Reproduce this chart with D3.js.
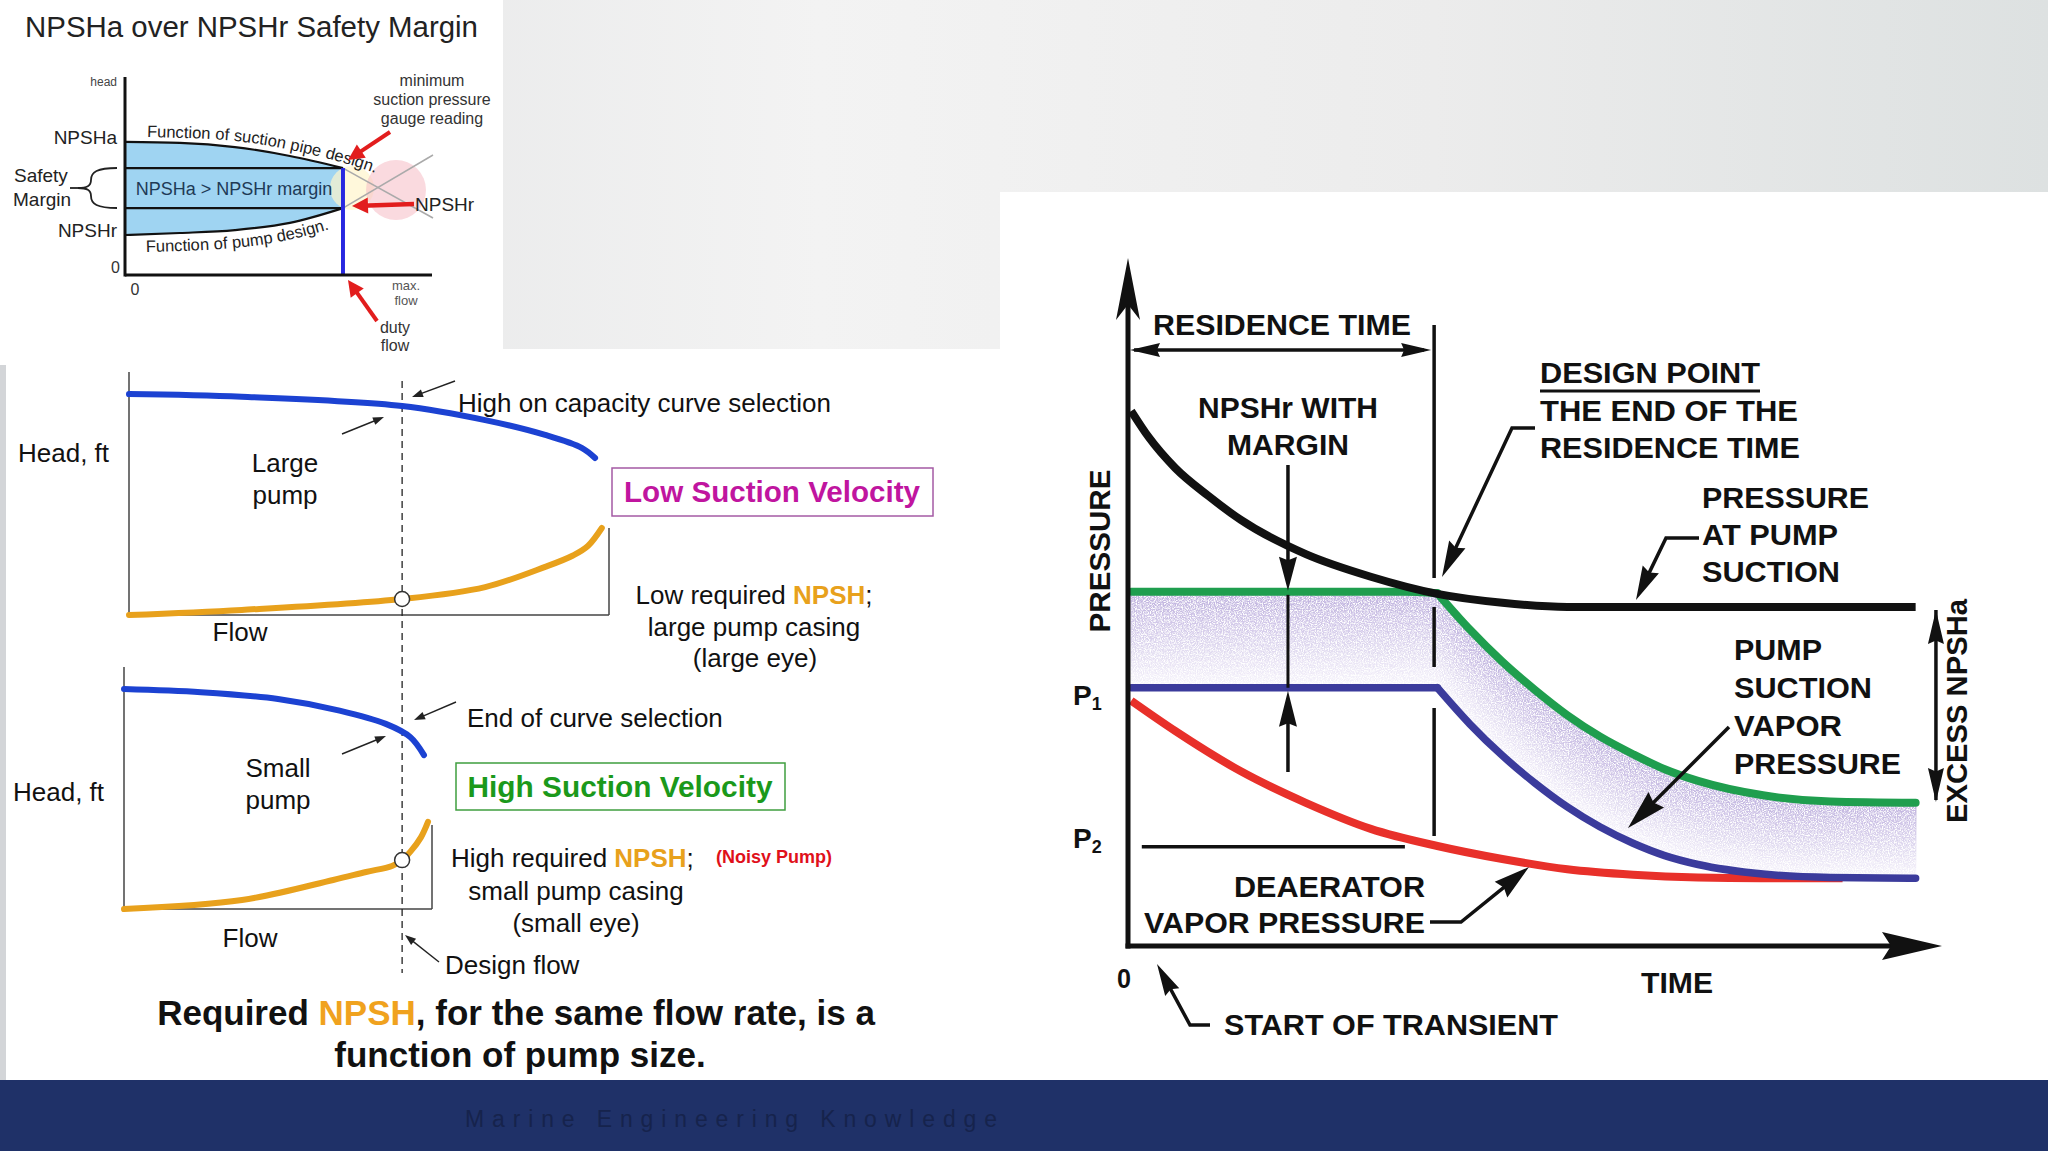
<!DOCTYPE html>
<html><head><meta charset="utf-8">
<script src="https://cdn.jsdelivr.net/npm/d3@7"></script>
<style>html,body{margin:0;padding:0;overflow:hidden;background:#fff}svg{display:block}text{font-family:"Liberation Sans",Arial,sans-serif}</style>
</head><body><svg id="c" width="2048" height="1151"></svg>
<script>
// ---------- DATA ----------
// Panel A: NPSHa over NPSHr safety margin (flow %, head %)
const marginFlow = [0, 17.9, 35.8, 53.7, 71.0];
const npshaHead  = [67.2, 66.7, 64.6, 60.1, 54.0];
const npshrHead  = [20.2, 21.2, 22.7, 26.3, 33.8];
const dutyFlow = 71.0;
const marginLevels = [54.0, 33.8];

// Panel B: large pump (flow %, head %)
const largeHeadFlow = [0, 23.5, 56.9, 74.2, 86.7, 94.4, 97.1];
const largeHead     = [90.9, 89.8, 86.0, 80.2, 74.1, 68.7, 64.6];
const largeNpshFlow = [0, 23.5, 56.9, 74.2, 86.7, 92.5, 95.6, 98.5];
const largeNpsh     = [0, 2.1, 6.6, 11.5, 19.8, 24.5, 28.4, 35.8];
const largeDesignFlow = 56.9, largeDesignNpsh = 6.6;

// Panel C: small pump (flow %, head %)
const smallHeadFlow = [0, 25, 50, 70, 85, 93, 97.4];
const smallHead     = [90.9, 89.6, 86.8, 82.0, 76.5, 71.0, 63.6];
const smallNpshFlow = [0, 38.3, 67.9, 78.6, 87.0, 90.3, 93.2, 96.4, 98.7];
const smallNpsh     = [0, 3.7, 12.0, 15.3, 17.8, 20.2, 24.0, 29.6, 36.0];
const smallDesignFlow = 90.3, smallDesignNpsh = 20.2;

// Panel D: transient (time units, pressure units)
const bandTime        = [0.04, 1.0, 2.0, 3.0, 3.4, 3.81, 4.21, 4.61, 5.01, 5.41, 5.81, 6.22, 6.61, 7.02, 7.82, 8.65, 9.70];
const npshrMarginLine = [5.17, 5.17, 5.17, 5.17, 5.17, 5.15, 4.62, 4.15, 3.74, 3.37, 3.06, 2.80, 2.58, 2.41, 2.20, 2.11, 2.09];
const pumpVaporLine   = [3.77, 3.77, 3.77, 3.77, 3.77, 3.77, 3.24, 2.78, 2.38, 2.03, 1.74, 1.50, 1.32, 1.19, 1.05, 1.00, 0.99];
const kinkIndex = 5;
const suctionTime     = [0.04, 0.26, 0.58, 0.99, 1.39, 2.19, 2.99, 3.81, 4.61, 5.41, 6.06, 9.70];
const suctionPressure = [7.81, 7.42, 6.98, 6.57, 6.22, 5.72, 5.39, 5.14, 5.01, 4.95, 4.95, 4.95];
const deaeratorTime   = [0.04, 0.58, 1.39, 2.19, 2.99, 3.81, 4.61, 5.41, 6.22, 7.02, 7.79, 8.80];
const deaeratorVapor  = [3.58, 3.14, 2.55, 2.09, 1.71, 1.46, 1.27, 1.12, 1.04, 1.00, 0.99, 0.99];
const designTime = 3.77, npshrArrowTime = 1.97, p2Level = 1.45, p2Span = [0.17, 3.41];

// ---------- SETUP ----------
const svg = d3.select("#c");
const defs = svg.append("defs");
const F = "Liberation Sans, Arial, sans-serif";

function txt(g, x, y, s, o = {}) {
  const t = g.append("text").attr("x", x).attr("y", y).attr("dy", o.dy || "0.35em")
    .attr("font-size", o.size || 26).attr("fill", o.fill || "#111")
    .attr("font-weight", o.weight || "normal").attr("text-anchor", o.anchor || "start")
    .attr("font-family", o.family || F).text(s);
  if (o.len) t.attr("textLength", o.len).attr("lengthAdjust", o.adjust || "spacingAndGlyphs");
  if (o.rotate) t.attr("transform", `rotate(${o.rotate},${x},${y})`);
  return t;
}
function head(g, tail, tip, len, hw, fill, notch = 0) {
  const dx = tip[0] - tail[0], dy = tip[1] - tail[1], L = Math.hypot(dx, dy), ux = dx / L, uy = dy / L, nx = -uy, ny = ux;
  const bx = tip[0] - ux * len, by = tip[1] - uy * len;
  const nbx = tip[0] - ux * len * (1 - notch), nby = tip[1] - uy * len * (1 - notch);
  g.append("path").attr("d", `M${tip[0]},${tip[1]}L${bx + nx * hw},${by + ny * hw}L${nbx},${nby}L${bx - nx * hw},${by - ny * hw}Z`).attr("fill", fill);
}
function arrow(g, pts, o) {
  const n = pts.length, tip = pts[n - 1], tail = pts[n - 2];
  const dx = tip[0] - tail[0], dy = tip[1] - tail[1], L = Math.hypot(dx, dy);
  const cut = o.len * 0.6;
  const end = [tip[0] - dx / L * cut, tip[1] - dy / L * cut];
  const p = pts.slice(0, n - 1).concat([end]);
  g.append("path").attr("d", "M" + p.join("L")).attr("fill", "none").attr("stroke", o.color).attr("stroke-width", o.width).attr("stroke-linejoin", "miter");
  head(g, tail, tip, o.len, o.hw, o.color, o.notch || 0);
}
function line(g, x1, y1, x2, y2, stroke, w, dash) {
  const l = g.append("line").attr("x1", x1).attr("y1", y1).attr("x2", x2).attr("y2", y2).attr("stroke", stroke).attr("stroke-width", w);
  if (dash) l.attr("stroke-dasharray", dash);
  return l;
}

// ---------- BACKGROUND ----------
const bg = defs.append("linearGradient").attr("id", "bg").attr("x1", 0).attr("x2", 1).attr("y1", 0).attr("y2", 0);
[["0%", "#e1e2e3"], ["40%", "#f3f3f3"], ["70%", "#ececec"], ["100%", "#dde1e1"]].forEach(s => bg.append("stop").attr("offset", s[0]).attr("stop-color", s[1]));
svg.append("rect").attr("width", 2048).attr("height", 1151).attr("fill", "url(#bg)");
svg.append("rect").attr("x", 0).attr("y", 0).attr("width", 503).attr("height", 365).attr("fill", "#fff");
svg.append("rect").attr("x", 0).attr("y", 349).attr("width", 1000).attr("height", 731).attr("fill", "#fff");
svg.append("rect").attr("x", 1000).attr("y", 192).attr("width", 1048).attr("height", 888).attr("fill", "#fff");
svg.append("rect").attr("x", 0).attr("y", 365).attr("width", 6).attr("height", 715).attr("fill", "#d3d5d8");
svg.append("rect").attr("x", 0).attr("y", 1080).attr("width", 2048).attr("height", 71).attr("fill", "#1f3168");
txt(svg, 465, 1119, "Marine Engineering Knowledge", { size: 23, fill: "#16234c", family: "Open Sans, DejaVu Sans, sans-serif", len: 532, adjust: "spacing" });

// ---------- PANEL A ----------
const gA = svg.append("g");
const xA = d3.scaleLinear([0, 100], [125, 432]);
const yA = d3.scaleLinear([0, 100], [275, 77]);
const aData = marginFlow.map((f, i) => ({ f, a: npshaHead[i], r: npshrHead[i] }));
gA.append("path").attr("d", d3.area().x(d => xA(d.f)).y0(d => yA(d.r)).y1(d => yA(d.a)).curve(d3.curveMonotoneX)(aData)).attr("fill", "#9fd4f2");
gA.append("circle").attr("cx", 352).attr("cy", 188).attr("r", 22).attr("fill", "#fff5cc").attr("opacity", 0.7);
gA.append("circle").attr("cx", 396).attr("cy", 190).attr("r", 30).attr("fill", "#f6bcc4").attr("opacity", 0.55);
line(gA, xA(dutyFlow), yA(marginLevels[0]), 433, 218, "#aaa", 1.5);
line(gA, xA(dutyFlow), yA(marginLevels[1]), 433, 155, "#aaa", 1.5);
marginLevels.forEach(m => line(gA, xA(0), yA(m), xA(dutyFlow), yA(m), "#111", 2.2));
const lA = d3.line().x(d => xA(d.f)).curve(d3.curveMonotoneX);
gA.append("path").attr("d", lA.y(d => yA(d.a))(aData)).attr("fill", "none").attr("stroke", "#111").attr("stroke-width", 2.2);
gA.append("path").attr("d", lA.y(d => yA(d.r))(aData)).attr("fill", "none").attr("stroke", "#111").attr("stroke-width", 2.2);
line(gA, xA(dutyFlow), yA(marginLevels[0]), xA(dutyFlow), yA(0), "#2828e0", 4);
line(gA, xA(0), yA(100), xA(0), yA(0) + 1.5, "#111", 3);
line(gA, xA(0), yA(0), xA(100), yA(0), "#111", 3);
txt(gA, 25, 27, "NPSHa over NPSHr Safety Margin", { size: 29, fill: "#222", len: 453 });
txt(gA, 117, 82, "head", { size: 12, fill: "#444", anchor: "end" });
txt(gA, 117, 137, "NPSHa", { size: 19, fill: "#222", anchor: "end" });
txt(gA, 14, 175, "Safety", { size: 19, fill: "#222" });
txt(gA, 13, 199, "Margin", { size: 19, fill: "#222" });
txt(gA, 117, 230, "NPSHr", { size: 19, fill: "#222", anchor: "end" });
txt(gA, 120, 267, "0", { size: 16, fill: "#333", anchor: "end" });
txt(gA, 135, 289, "0", { size: 16, fill: "#333", anchor: "middle" });
gA.append("path").attr("d", "M117,168 C97,168 91,172 91,180 C91,186 87,188 78,188 C87,188 91,190 91,196 C91,204 97,208 117,208").attr("fill", "none").attr("stroke", "#222").attr("stroke-width", 1.8);
line(gA, 70, 188, 80, 188, "#222", 1.8);
txt(gA, 234, 189, "NPSHa > NPSHr margin", { size: 18, fill: "#1e3a56", anchor: "middle" });
defs.append("path").attr("id", "tp1").attr("d", d3.line().curve(d3.curveBasis)([[147, 137], [235, 139], [292, 150], [340, 161], [378, 174]]));
defs.append("path").attr("id", "tp2").attr("d", d3.line().curve(d3.curveBasis)([[146, 252], [220, 250], [282, 243], [340, 226]]));
gA.append("text").attr("font-size", 16.5).attr("fill", "#222").attr("font-family", F).append("textPath").attr("href", "#tp1").text("Function of suction pipe design.");
gA.append("text").attr("font-size", 16.5).attr("fill", "#222").attr("font-family", F).append("textPath").attr("href", "#tp2").text("Function of  pump design.");
txt(gA, 432, 80, "minimum", { size: 16, fill: "#333", anchor: "middle" });
txt(gA, 432, 99, "suction pressure", { size: 16, fill: "#333", anchor: "middle" });
txt(gA, 432, 118, "gauge reading", { size: 16, fill: "#333", anchor: "middle" });
txt(gA, 415, 204, "NPSHr", { size: 19, fill: "#222" });
txt(gA, 406, 285, "max.", { size: 13, fill: "#555", anchor: "middle" });
txt(gA, 406, 300, "flow", { size: 13, fill: "#555", anchor: "middle" });
txt(gA, 395, 327, "duty", { size: 16, fill: "#333", anchor: "middle" });
txt(gA, 395, 345, "flow", { size: 16, fill: "#333", anchor: "middle" });
const red = "#e21d1d";
arrow(gA, [[390, 132], [348, 160]], { color: red, width: 4, len: 16, hw: 8 });
arrow(gA, [[414, 204], [352, 206]], { color: red, width: 4.5, len: 16, hw: 8 });
arrow(gA, [[377, 321], [348, 280]], { color: red, width: 4, len: 16, hw: 8 });

// ---------- PANEL B / C ----------
const gB = svg.append("g");
const xL = d3.scaleLinear([0, 100], [129, 609]);
const yL = d3.scaleLinear([0, 100], [615, 372]);
const xS = d3.scaleLinear([0, 100], [124, 432]);
const yS = d3.scaleLinear([0, 100], [909, 667]);
const blue = "#1c42d2", orange = "#e8a11c", ax = "#444";
line(gB, xL(0), yL(100), xL(0), yL(0), ax, 1.5);
line(gB, xL(0), yL(0), xL(100), yL(0), ax, 1.5);
line(gB, xL(100), yL(0), xL(100), 528, ax, 1.5);
line(gB, xS(0), yS(100), xS(0), yS(0), ax, 1.5);
line(gB, xS(0), yS(0), xS(100), yS(0), ax, 1.5);
line(gB, xS(100), yS(0), xS(100), 825, ax, 1.5);
line(gB, xL(largeDesignFlow), 381, xL(largeDesignFlow), 973, "#222", 1.3, "7,5");
const cv = (xs, ys, X, Y, color) => gB.append("path")
  .attr("d", d3.line().x((d, i) => X(xs[i])).y((d, i) => Y(ys[i])).curve(d3.curveCatmullRom.alpha(0.5))(xs))
  .attr("fill", "none").attr("stroke", color).attr("stroke-width", 6).attr("stroke-linecap", "round");
cv(largeHeadFlow, largeHead, xL, yL, blue);
cv(largeNpshFlow, largeNpsh, xL, yL, orange);
cv(smallHeadFlow, smallHead, xS, yS, blue);
cv(smallNpshFlow, smallNpsh, xS, yS, orange);
gB.append("circle").attr("cx", xL(largeDesignFlow)).attr("cy", yL(largeDesignNpsh)).attr("r", 7.5).attr("fill", "#fff").attr("stroke", "#333").attr("stroke-width", 1.5);
gB.append("circle").attr("cx", xS(smallDesignFlow)).attr("cy", yS(smallDesignNpsh)).attr("r", 7.5).attr("fill", "#fff").attr("stroke", "#333").attr("stroke-width", 1.5);
const sa = { color: "#222", width: 1.4, len: 11, hw: 4 };
arrow(gB, [[455, 381], [412, 397]], sa);
arrow(gB, [[342, 434], [384, 417]], sa);
arrow(gB, [[456, 702], [414, 720]], sa);
arrow(gB, [[342, 754], [386, 736]], sa);
arrow(gB, [[439, 962], [405, 935]], sa);
txt(gB, 18, 453, "Head, ft");
txt(gB, 285, 463, "Large", { anchor: "middle" });
txt(gB, 285, 495, "pump", { anchor: "middle" });
txt(gB, 240, 632, "Flow", { anchor: "middle" });
txt(gB, 458, 403, "High on capacity curve selection");
gB.append("rect").attr("x", 612).attr("y", 468).attr("width", 321).attr("height", 48).attr("fill", "#fff").attr("stroke", "#a45aa4").attr("stroke-width", 1.5);
txt(gB, 772, 492, "Low Suction Velocity", { size: 29, weight: "bold", fill: "#c0159f", anchor: "middle", len: 296 });
const t1 = txt(gB, 754, 595, "Low required ", { anchor: "middle" });
t1.append("tspan").attr("fill", orange).attr("font-weight", "bold").text("NPSH");
t1.append("tspan").text(";");
txt(gB, 754, 627, "large pump casing", { anchor: "middle" });
txt(gB, 755, 658, "(large eye)", { anchor: "middle" });
txt(gB, 13, 792, "Head, ft");
txt(gB, 278, 768, "Small", { anchor: "middle" });
txt(gB, 278, 800, "pump", { anchor: "middle" });
txt(gB, 467, 718, "End of curve selection");
gB.append("rect").attr("x", 456).attr("y", 763).attr("width", 329).attr("height", 47).attr("fill", "#fff").attr("stroke", "#3f9e3f").attr("stroke-width", 1.5);
txt(gB, 620, 787, "High Suction Velocity", { size: 29, weight: "bold", fill: "#1b991b", anchor: "middle", len: 305 });
const t2 = txt(gB, 451, 858, "High required ");
t2.append("tspan").attr("fill", orange).attr("font-weight", "bold").text("NPSH");
t2.append("tspan").text(";");
txt(gB, 716, 857, "(Noisy Pump)", { size: 18, weight: "bold", fill: "#e0101a" });
txt(gB, 576, 891, "small pump casing", { anchor: "middle" });
txt(gB, 576, 923, "(small eye)", { anchor: "middle" });
txt(gB, 250, 938, "Flow", { anchor: "middle" });
txt(gB, 445, 965, "Design flow");
const t3 = txt(gB, 516, 1013, "Required ", { size: 35, weight: "bold", anchor: "middle" });
t3.append("tspan").attr("fill", "#f0a21e").text("NPSH");
t3.append("tspan").text(", for the same flow rate, is a");
txt(gB, 520, 1055, "function of pump size.", { size: 35, weight: "bold", anchor: "middle" });

// ---------- PANEL D ----------
const gD = svg.append("g");
const xR = d3.scaleLinear([0, 10], [1128, 1940]);
const yR = d3.scaleLinear([0, 10], [946, 261]);
const band = bandTime.map((t, i) => ({ t, g: npshrMarginLine[i], b: pumpVaporLine[i] }));
const parts = [band.slice(0, kinkIndex + 1), band.slice(kinkIndex)];
const col = d3.interpolateRgb("#bcaedd", "#f6f4fb");
const N = 14;
for (let k = N; k >= 1; k--) {
  const f = k / N;
  const ar = d3.area().x(d => xR(d.t)).y1(d => yR(d.g)).y0(d => yR(d.g + (d.b - d.g) * f)).curve(d3.curveMonotoneX);
  gD.append("path").attr("d", ar(parts[0]) + ar(parts[1])).attr("fill", col(f)).attr("stroke", col(f)).attr("stroke-width", 0.6);
}
const flt = defs.append("filter").attr("id", "speck").attr("x", 0).attr("y", 0).attr("width", 1).attr("height", 1);
flt.append("feTurbulence").attr("type", "fractalNoise").attr("baseFrequency", 0.85).attr("numOctaves", 2).attr("seed", 4).attr("result", "n");
flt.append("feColorMatrix").attr("in", "n").attr("type", "matrix").attr("values", "0 0 0 0 1  0 0 0 0 1  0 0 0 0 1  3.2 0 0 0 -1.25").attr("result", "w");
flt.append("feComposite").attr("in", "w").attr("in2", "SourceGraphic").attr("operator", "in");
const arAll = d3.area().x(d => xR(d.t)).y1(d => yR(d.g)).y0(d => yR(d.b)).curve(d3.curveMonotoneX);
gD.append("path").attr("d", arAll(parts[0]) + arAll(parts[1])).attr("fill", "#fff").attr("filter", "url(#speck)");
const lr = (xs, ys) => d3.line().x((d, i) => xR(xs[i])).y((d, i) => yR(ys[i])).curve(d3.curveMonotoneX)(xs);
const lrParts = (ys, color, w) => {
  [[0, kinkIndex + 1], [kinkIndex, bandTime.length]].forEach(([a, b]) =>
    gD.append("path").attr("d", lr(bandTime.slice(a, b), ys.slice(a, b))).attr("fill", "none").attr("stroke", color).attr("stroke-width", w).attr("stroke-linecap", "round"));
};
gD.append("path").attr("d", lr(deaeratorTime, deaeratorVapor)).attr("fill", "none").attr("stroke", "#e8302a").attr("stroke-width", 8);
lrParts(pumpVaporLine, "#3b3b9c", 7.5);
lrParts(npshrMarginLine, "#1f9e4e", 8);
gD.append("path").attr("d", lr(suctionTime, suctionPressure)).attr("fill", "none").attr("stroke", "#111").attr("stroke-width", 8);
// axes
line(gD, xR(0), yR(0) + 2.5, xR(0), 300, "#111", 5);
head(gD, [xR(0), 400], [xR(0), 258], 62, 12, "#111", 0.25);
line(gD, xR(0) - 2.5, yR(0), 1900, yR(0), "#111", 5);
head(gD, [1800, yR(0)], [1942, yR(0)], 60, 14, "#111", 0.15);
const black = "#111";
line(gD, xR(0) + 6, 350, xR(designTime) - 10, 350, black, 3.5);
head(gD, [xR(designTime), 350], [xR(0) + 2, 350], 30, 7, black, 0.1);
head(gD, [xR(0), 350], [xR(designTime) - 3, 350], 30, 7, black, 0.1);
const xd = xR(designTime);
line(gD, xd, 325, xd, 578, black, 3.5);
line(gD, xd, 607, xd, 667, black, 3.5);
line(gD, xd, 708, xd, 836, black, 3.5);
const xn = xR(npshrArrowTime);
arrow(gD, [[xn, 465], [xn, yR(npshrMarginLine[0]) - 1]], { color: black, width: 3.5, len: 34, hw: 9, notch: 0.1 });
line(gD, xn, yR(npshrMarginLine[0]) + 3, xn, yR(pumpVaporLine[0]), black, 3);
arrow(gD, [[xn, 772], [xn, yR(pumpVaporLine[0]) + 3]], { color: black, width: 3.5, len: 36, hw: 9, notch: 0.1 });
line(gD, xR(p2Span[0]), yR(p2Level), xR(p2Span[1]), yR(p2Level), black, 3.5);
arrow(gD, [[1535, 428], [1512, 428], [1442, 577]], { color: black, width: 3.5, len: 36, hw: 9, notch: 0.1 });
arrow(gD, [[1699, 538], [1666, 538], [1636, 600]], { color: black, width: 3.5, len: 34, hw: 9, notch: 0.1 });
arrow(gD, [[1729, 727], [1628, 828]], { color: black, width: 3.5, len: 40, hw: 11, notch: 0.1 });
arrow(gD, [[1430, 922], [1461, 922], [1529, 867]], { color: black, width: 3.5, len: 36, hw: 10, notch: 0.1 });
arrow(gD, [[1210, 1025], [1190, 1025], [1157, 964]], { color: black, width: 3.5, len: 32, hw: 8, notch: 0.1 });
line(gD, 1540, 391, 1760, 391, black, 3);
line(gD, xR(9.95), 610, xR(9.95), 800, black, 3.5);
head(gD, [xR(9.95), 700], [xR(9.95), 610], 34, 8, black, 0.1);
head(gD, [xR(9.95), 700], [xR(9.95), 802], 34, 8, black, 0.1);
const B = { size: 29, weight: "bold", fill: "#111" };
txt(gD, 1153, 325, "RESIDENCE TIME", { ...B, len: 258 });
txt(gD, 1288, 408, "NPSHr WITH", { ...B, anchor: "middle", len: 180 });
txt(gD, 1288, 445, "MARGIN", { ...B, anchor: "middle", len: 122 });
txt(gD, 1540, 373, "DESIGN POINT", { ...B, len: 220 });
txt(gD, 1540, 411, "THE END OF THE", { ...B, len: 258 });
txt(gD, 1540, 448, "RESIDENCE TIME", { ...B, len: 260 });
txt(gD, 1702, 498, "PRESSURE", { ...B, len: 167 });
txt(gD, 1702, 535, "AT PUMP", { ...B, len: 136 });
txt(gD, 1702, 572, "SUCTION", { ...B, len: 138 });
txt(gD, 1734, 650, "PUMP", { ...B, len: 88 });
txt(gD, 1734, 688, "SUCTION", { ...B, len: 138 });
txt(gD, 1734, 726, "VAPOR", { ...B, len: 108 });
txt(gD, 1734, 764, "PRESSURE", { ...B, len: 167 });
txt(gD, 1234, 887, "DEAERATOR", { ...B, len: 191 });
txt(gD, 1144, 923, "VAPOR PRESSURE", { ...B, len: 281 });
txt(gD, 1224, 1025, "START OF TRANSIENT", { ...B, len: 334 });
txt(gD, 1677, 983, "TIME", { ...B, anchor: "middle", len: 72 });
txt(gD, 1100, 551, "PRESSURE", { ...B, anchor: "middle", len: 163, rotate: -90 });
txt(gD, 1957, 711, "EXCESS NPSHa", { ...B, anchor: "middle", len: 224, rotate: -90 });
txt(gD, 1124, 978, "0", { size: 28, weight: "bold", anchor: "middle", len: 14 });
const p1 = txt(gD, 1073, 695, "P", { size: 28, weight: "bold" });
p1.append("tspan").attr("font-size", 18).attr("dy", "0.3em").text("1");
const p2 = txt(gD, 1073, 838, "P", { size: 28, weight: "bold" });
p2.append("tspan").attr("font-size", 18).attr("dy", "0.3em").text("2");
</script></body></html>
